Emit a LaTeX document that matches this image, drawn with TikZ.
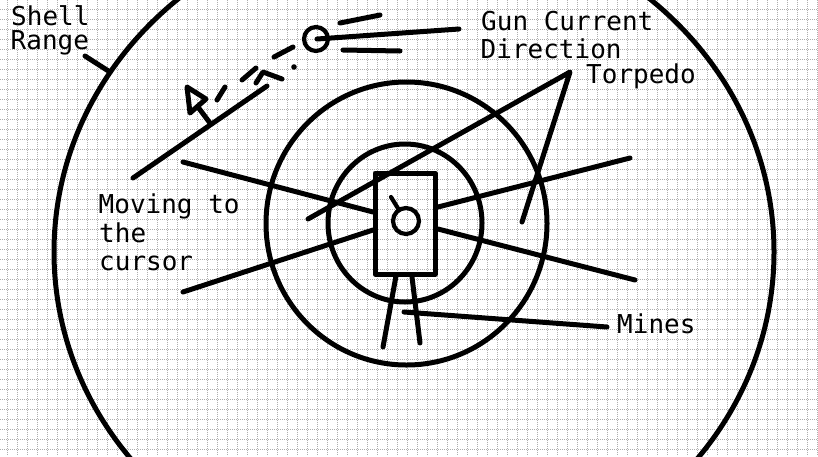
\documentclass[tikz,border=0pt]{standalone}
\usepackage{fontspec}
\setmonofont{DejaVu Sans Mono}
\begin{document}
\begin{tikzpicture}[x=1pt,y=-1pt,
  ink/.style={line width=5pt, line cap=round, line join=round, black},
  thin ink/.style={ink, line width=4.2pt},
  lbl/.style={font=\ttfamily\fontsize{26}{26}\selectfont, inner sep=0pt, anchor=base west, text=black},
  gridline/.style={black!32, line width=0.8pt, dash pattern=on 1pt off 1pt}]
\useasboundingbox (0,0) rectangle (818,456);
\fill[white] (0,0) rectangle (818,456);
% grid
\foreach \gx in {7,17,...,817} \draw[gridline] (\gx,0) -- (\gx,456);
\foreach \gy in {9,19,...,449} \draw[gridline] (0,\gy) -- (818,\gy);
% shell range, outer ring
\draw[ink] (414,252) ellipse [x radius=360, y radius=335];
% middle and inner rings
\draw[ink] (406.5,223.5) ellipse [x radius=140.5, y radius=141.5];
\draw[ink] (405,223) ellipse [x radius=77, y radius=79];
% tank
\draw[ink] (375,173) rectangle (435,274);
\draw[thin ink] (406,221) circle [radius=13];
\draw[thin ink] (391,197) -- (399,210);
% rays
\draw[ink] (183,162) -- (373,212);
\draw[ink] (183,292) -- (373,230);
\draw[ink] (438,207) -- (630,158);
\draw[ink] (438,229) -- (635,280);
\draw[ink] (396,276) -- (383,347);
\draw[ink] (412,277) -- (420,343);
% torpedo
\draw[ink] (308,219) -- (570,72) -- (522,222);
% shell and its motion
\draw[thin ink] (316,39) circle [radius=12];
\draw[ink] (340,23) -- (380,15);
\draw[ink] (343,50) -- (400,51);
\draw[ink] (274,57) -- (293,47);
\fill (294,67) circle [radius=2.8];
\draw[ink] (242,80) -- (256,68);
\draw[ink] (256,83) -- (263,72) -- (282,79);
\draw[ink] (217,100) -- (225,87);
\draw[ink] (190,113) -- (187,87) -- (206,99) -- cycle;
\draw[ink] (198,107) -- (210,123);
% labels
\node[lbl] (shellA) at (11,25) {Shell};
\node[lbl] (shellB) at (10.5,49.5) {Range};
\node[lbl] (gunA) at (481,30) {Gun Current};
\node[lbl] (gunB) at (480.5,58.5) {Direction};
\node[lbl] (torp) at (586,83.5) {Torpedo};
\node[lbl] (movA) at (98.5,213.5) {Moving to};
\node[lbl] (movB) at (99,242) {the};
\node[lbl] (movC) at (99,270.5) {cursor};
\node[lbl] (mines) at (617,333) {Mines};
% pointers
\coordinate (shellTip) at (110,72);
\coordinate (shellTail) at (85,56);
\draw[ink] (shellTail) -- (shellTip);
\coordinate (gunStart) at (317,39);
\coordinate (gunEnd) at (459,29);
\draw[ink] (gunStart) -- (gunEnd);
\coordinate (movStart) at (133,178);
\coordinate (movEnd) at (267,86);
\draw[ink] (movStart) -- (movEnd);
\coordinate (minesStart) at (404,312);
\coordinate (minesEnd) at (607,327);
\draw[ink] (minesStart) -- (minesEnd);
\end{tikzpicture}
\end{document}
